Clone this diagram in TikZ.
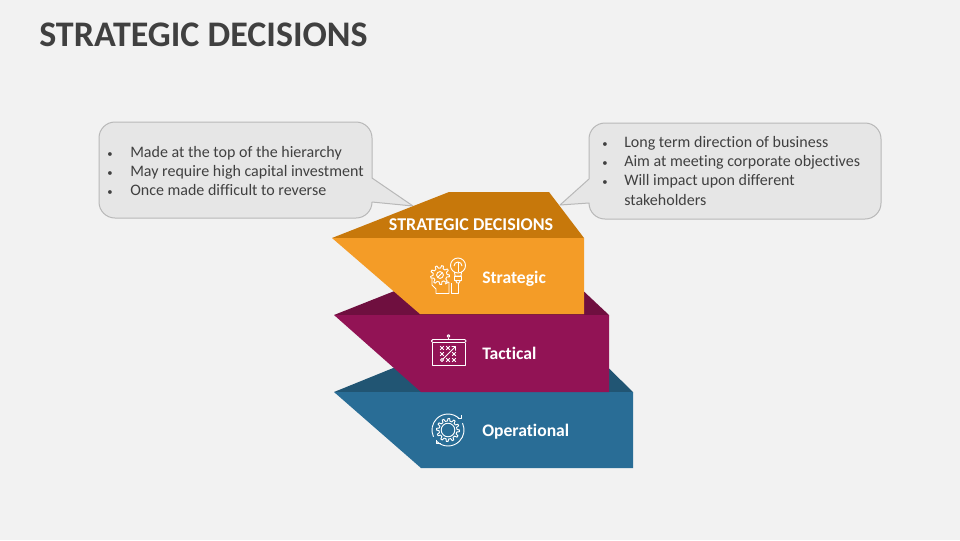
\documentclass[tikz,border=0pt]{standalone}
\usepackage{fontspec}
\setmainfont{Carlito}[Ligatures=NoCommon]
\usepackage{xcolor}
\definecolor{pagebg}{HTML}{F2F2F2}
\definecolor{titlegray}{HTML}{404040}
\definecolor{bubblefill}{HTML}{E6E6E6}
\definecolor{bubbleline}{HTML}{B8B8B8}
\definecolor{orangefront}{HTML}{F49C27}
\definecolor{orangetop}{HTML}{C7780B}
\definecolor{purplefront}{HTML}{921355}
\definecolor{purpletop}{HTML}{6F0F3F}
\definecolor{bluefront}{HTML}{296D96}
\definecolor{bluetop}{HTML}{215573}
\tikzset{
  bubble/.style={fill=bubblefill,draw=bubbleline,line width=0.75pt,line join=round},
  bullettext/.style={anchor=base west,inner sep=0pt,text=titlegray,font=\fontsize{12}{14}\selectfont},
  bulletdot/.style={anchor=base west,inner sep=0pt,text=titlegray,font=\fontsize{8}{14}\selectfont},
  steplabel/.style={anchor=west,inner sep=0pt,text=white,font=\fontsize{13.2}{16}\selectfont\bfseries},
  icon/.style={draw=white,line width=0.7pt,line join=round}
}
% gear outline: centre x, centre y, inner radius, outer radius, teeth
\newcommand{\gearshape}[5]{
  \draw[icon] ({#1+#4},{#2}) \foreach \k in {1,...,#5} {
    -- ({#1+#4*cos((\k-0.72)*360/#5)},{#2+#4*sin((\k-0.72)*360/#5)})
    -- ({#1+#3*cos((\k-0.58)*360/#5)},{#2+#3*sin((\k-0.58)*360/#5)})
    -- ({#1+#3*cos((\k-0.14)*360/#5)},{#2+#3*sin((\k-0.14)*360/#5)})
    -- ({#1+#4*cos(\k*360/#5)},{#2+#4*sin(\k*360/#5)})
  } -- cycle;
}
\begin{document}
\begin{tikzpicture}[x=0.75pt,y=-0.75pt]
  \useasboundingbox (0,0) rectangle (960,540);
  \fill[pagebg] (0,0) rectangle (960,540);
  \node[anchor=base west,inner sep=0pt,text=titlegray,font=\fontsize{27}{30}\selectfont\bfseries] (title) at (39,46) {STRATEGIC DECISIONS};

  % callouts
  \draw[bubble] (115,122) -- (356,122) arc (-90:0:16) -- (372,178) -- (413,206) -- (372,202)
    -- (372,202) arc (0:90:16) -- (115,218) arc (90:180:16) -- (99,138) arc (180:270:16) -- cycle;
  \draw[bubble] (605,123) -- (865,123) arc (-90:0:16) -- (881,203) arc (0:90:16) -- (605,219)
    arc (90:180:16) -- (589,203) -- (560,205) -- (589,179) -- (589,139) arc (180:270:16) -- cycle;

  \node[bulletdot] (lb1) at (107,157) {•};
  \node[bulletdot] (lb2) at (107,176) {•};
  \node[bulletdot] (lb3) at (107,195) {•};
  \node[bullettext] (lt1) at (130,157) {Made at the top of the hierarchy};
  \node[bullettext] (lt2) at (130,176) {May require high capital investment};
  \node[bullettext] (lt3) at (130,195) {Once made difficult to reverse};

  \node[bulletdot] (rb1) at (602,147) {•};
  \node[bulletdot] (rb2) at (602,166) {•};
  \node[bulletdot] (rb3) at (602,185) {•};
  \node[bullettext] (rt1) at (624,147) {Long term direction of business};
  \node[bullettext] (rt2) at (624,166) {Aim at meeting corporate objectives};
  \node[bullettext] (rt3) at (624,185) {Will impact upon different};
  \node[bullettext] (rt4) at (624,205) {stakeholders};

  % stack, back to front
  \fill[bluetop] (334,392) -- (450,345) -- (585,345) -- (633,392) -- cycle;
  \fill[bluefront] (334,392) -- (633,392) -- (633,468) -- (421,468) -- cycle;
  \fill[purpletop] (334,315) -- (450,269) -- (560,269) -- (609,315) -- cycle;
  \fill[purplefront] (334,315) -- (609,315) -- (609,392) -- (421,392) -- cycle;
  \fill[orangetop] (332,238) -- (449,192) -- (549,192) -- (584,238) -- cycle;
  \fill[orangefront] (332,238) -- (584,238) -- (584,314) -- (420,314) -- cycle;

  \node[text=white,inner sep=0pt,font=\fontsize{13.5}{16}\selectfont\bfseries] (head) at (471,225) {STRATEGIC DECISIONS};
  \node[steplabel] (strategic) at (482,279) {Strategic};
  \node[steplabel] (tactical) at (482,353) {Tactical};
  \node[steplabel] (operational) at (482,432) {Operational};

  % icon strategic
  \gearshape{440}{275}{7}{9.5}{9}
  \draw[icon] (440,275) circle (3.4);
  \draw[icon] (438,277) -- (442,273);
  \draw[icon] (432,279) -- (432,285) -- (436,289) -- (436,293.5) -- (449,293.5) -- (449,282);
  \draw[icon] (445,284) -- (449,282);
  \draw[icon] (458,265.5) circle (7.5);
  \draw[icon] (454,266) arc (180:360:4);
  \draw[icon] (458,262) -- (458,272);
  \draw[icon] (454.5,272) -- (455,276) -- (461,276) -- (461.5,272);
  \draw[icon] (454.5,276) rectangle (461.5,280);
  \draw[icon] (455.5,280) -- (457,283) -- (459,283) -- (460.5,280);
  \draw[icon] (451,283) -- (451,293.5) -- (458,293.5) -- (458,283);

  % icon tactical
  \draw[icon] (448.5,336) circle (1.4);
  \draw[icon] (448.5,337.5) -- (448.5,339.5);
  \draw[icon,rounded corners=1pt] (431.5,339.5) rectangle (466,342.5);
  \draw[icon] (432.5,342.5) -- (432.5,365.5) -- (465,365.5) -- (465,342.5);
  \foreach \xm/\ym in {442/348,448/348,442/354,454/354,454/360,448/360} {
    \draw[icon] (\xm-1.8,\ym-1.8) -- (\xm+1.8,\ym+1.8) (\xm-1.8,\ym+1.8) -- (\xm+1.8,\ym-1.8);
  }
  \draw[icon] (442,360) circle (1.5);
  \draw[icon] (443,359) -- (455.5,346.5) (451.5,346.5) -- (455.5,346.5) -- (455.5,350.5);

  % icon operational
  \draw[icon] (448,430) circle (6.8);
  \gearshape{448}{430}{9}{11.5}{12}
  \draw[icon] (459.3,418.7) arc (-45:-205:16);
  \draw[icon] (457.5,418) -- (461,418) -- (461,414.5);
  \draw[icon] (436.7,441.3) arc (135:-25:16);
  \draw[icon] (440.5,443) -- (436.5,443) -- (436.5,439.5);
\end{tikzpicture}
\end{document}
